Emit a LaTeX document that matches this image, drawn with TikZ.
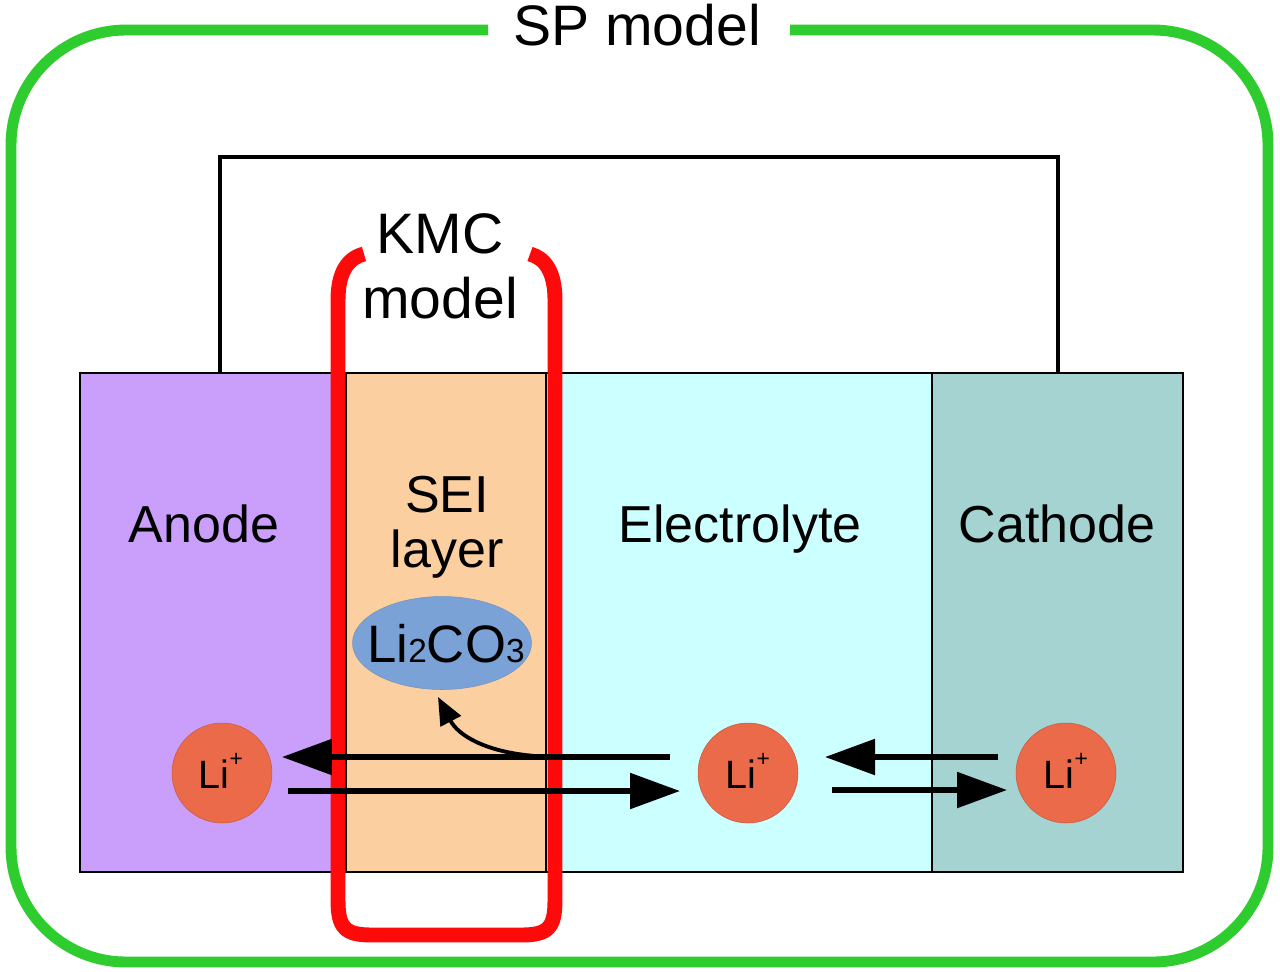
\documentclass[tikz,border=0pt]{standalone}
\usepackage{fontspec}
\setmainfont{Liberation Sans}
\usetikzlibrary{arrows.meta,shapes.geometric}
\definecolor{anodec}{HTML}{CA9FFC}
\definecolor{seic}{HTML}{FCCFA0}
\definecolor{electc}{HTML}{CCFFFF}
\definecolor{cathc}{HTML}{A4D3D1}
\definecolor{framegreen}{HTML}{2ECC2E}
\definecolor{kmcred}{HTML}{FF0A0A}
\definecolor{ellc}{HTML}{7BA2D6}
\definecolor{ionc}{HTML}{EA6A49}
\tikzset{
  region/.style={draw=black, line width=1.5pt},
  label/.style={font=\fontsize{29.6}{34}\selectfont, anchor=base, inner sep=0pt},
  biglabel/.style={font=\fontsize{32.5}{38}\selectfont, anchor=base, inner sep=0pt},
  ion/.style={circle, fill=ionc, draw=ionc!85!black, line width=0.3pt, minimum size=2cm, inner sep=0pt},
  iontext/.style={font=\fontsize{22.5}{26}\selectfont, anchor=base, inner sep=0pt},
  bigarrow/.style={line width=3.1pt, -{Triangle[length=1cm, width=0.7cm]}},
  smallarrow/.style={line width=2.2pt, -{Triangle[length=0.55cm, width=0.45cm]}},
  wire/.style={line width=2.3pt, black},
}
\begin{document}
\begin{tikzpicture}[x=0.02cm, y=-0.02cm]
\useasboundingbox (0,0) rectangle (1280,971);
\fill[white] (0,0) rectangle (1280,971);
% regions
\fill[anodec] (80,373) rectangle (346,872);
\fill[seic] (346,373) rectangle (546,872);
\fill[electc] (546,373) rectangle (932,872);
\fill[cathc] (932,373) rectangle (1183,872);
\draw[region] (80,373) rectangle (1183,872);
\draw[region] (346,373) -- (346,872);
\draw[region] (546,373) -- (546,872);
\draw[region] (932,373) -- (932,872);
% external wire
\draw[wire] (220,373) -- (220,157) -- (1058,157) -- (1058,373);
% SP model frame
\draw[framegreen, line width=6.2pt, rounded corners=2.3cm]
  (488,30) -- (11,30) -- (11,962) -- (1268,962) -- (1268,30) -- (790,30);
\node[biglabel] (sp) at (637,45) {SP model};
% labels
\node[label] (anode) at (204,542) {Anode};
\node[label] (sei1) at (447,512) {SEI};
\node[label] (sei2) at (447,567) {layer};
\node[label] (elec) at (740,542) {Electrolyte};
\node[label] (cath) at (1057,542) {Cathode};
% Li2CO3
\node[ellipse, fill=ellc, draw=ellc!90!black, line width=0.3pt, minimum width=3.58cm, minimum height=1.86cm, inner sep=0pt] (licoe) at (442,643) {};
\node[font=\fontsize{30}{34}\selectfont, anchor=base, inner sep=0pt] (lico) at (446,662) {Li{\fontsize{19}{22}\selectfont 2}CO{\fontsize{19}{22}\selectfont 3}};
% ions
\node[ion] (li1) at (222,773) {};
\node[ion] (li2) at (748,773) {};
\node[ion] (li3) at (1066,773) {};
\node[iontext] at (221,788) {Li\raisebox{0.55em}{\fontsize{13}{14}\selectfont +}};
\node[iontext] at (748,788) {Li\raisebox{0.55em}{\fontsize{13}{14}\selectfont +}};
\node[iontext] at (1066,788) {Li\raisebox{0.55em}{\fontsize{13}{14}\selectfont +}};
% KMC model frame
\draw[kmcred, line width=8.5pt]
  (364,254) .. controls (348,258) and (338,272) .. (338,300)
  -- (338,900) .. controls (338,928) and (345,935) .. (372,935)
  -- (521,935) .. controls (548,935) and (555,928) .. (555,900)
  -- (555,300) .. controls (555,272) and (545,258) .. (530,254);
\node[biglabel] (kmc1) at (440,253) {KMC};
\node[biglabel] (kmc2) at (440,318) {model};
% arrows
\coordinate (a1s) at (670,757);
\coordinate (a1e) at (282,757);
\coordinate (a2s) at (288,791);
\coordinate (a2e) at (680,791);
\coordinate (a3s) at (998,757);
\coordinate (a3e) at (825,757);
\coordinate (a4s) at (832,790);
\coordinate (a4e) at (1007,790);
\coordinate (cs) at (535,756);
\draw[bigarrow] (a1s) -- (a1e);
\draw[bigarrow] (a2s) -- (a2e);
\draw[bigarrow] (a3s) -- (a3e);
\draw[bigarrow] (a4s) -- (a4e);
\draw[smallarrow] (cs) .. controls (485,752) and (458,735) .. (438,697);
\end{tikzpicture}
\end{document}
